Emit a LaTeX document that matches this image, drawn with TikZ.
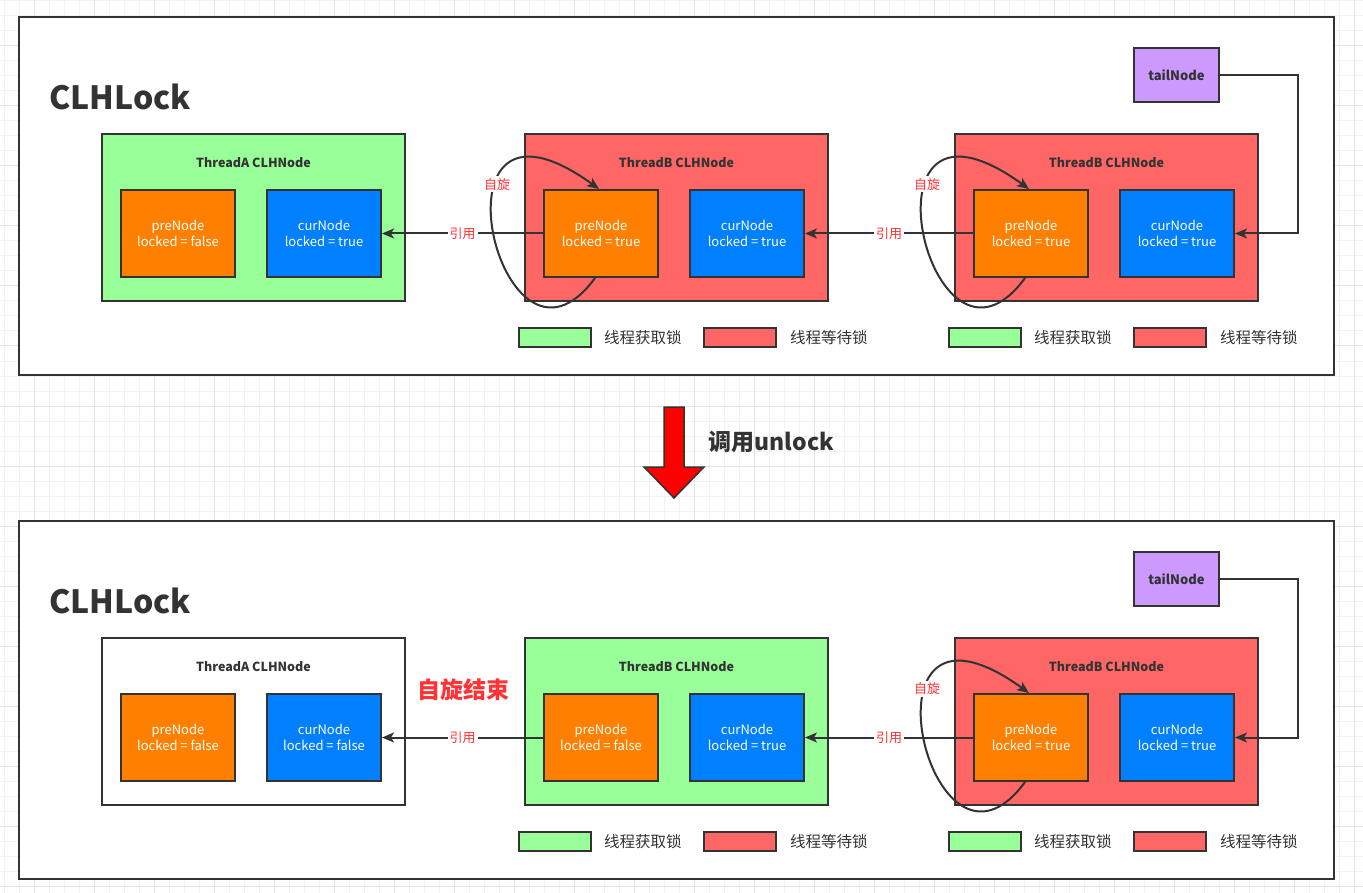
\documentclass[tikz,border=0pt]{standalone}
\usepackage{fontspec}
\setmainfont{Noto Sans CJK SC}
\usetikzlibrary{arrows.meta,positioning}
\definecolor{lineGray}{HTML}{333333}
\definecolor{waitRed}{HTML}{FF6666}
\definecolor{getGreen}{HTML}{99FF99}
\definecolor{preOrange}{HTML}{FF8000}
\definecolor{curBlue}{HTML}{007FFF}
\definecolor{tailPurple}{HTML}{CC99FF}
\definecolor{noteRed}{HTML}{FF3333}
\definecolor{gridMinor}{HTML}{F2F2F2}
\definecolor{gridMajor}{HTML}{E3E3E3}
\tikzset{
    panel/.style={draw=lineGray, line width=2pt, fill=white},
    threadbox/.style={draw=lineGray, line width=2pt, minimum width=303pt, minimum height=167pt, inner sep=0pt},
    fieldbox/.style={draw=lineGray, line width=2pt, minimum width=114pt, minimum height=87pt, inner sep=0pt,
        text=white, align=center, font=\fontsize{13}{16}\selectfont},
    titletext/.style={text=lineGray, inner sep=0pt, font=\bfseries\fontsize{12.5}{15}\selectfont},
    tailbox/.style={draw=lineGray, line width=2pt, fill=tailPurple, minimum width=85pt, minimum height=54pt,
        inner sep=0pt, text=lineGray, font=\bfseries\fontsize{13}{15}\selectfont},
    refline/.style={draw=lineGray, line width=2pt, -{Stealth[length=12pt,width=10pt,inset=3pt]}},
    reflabel/.style={fill=white, text=noteRed, inner sep=2pt, font=\fontsize{13}{15}\selectfont},
    legendbox/.style={draw=lineGray, line width=2pt, minimum width=72pt, minimum height=19pt, inner sep=0pt},
    legendtext/.style={text=lineGray, inner sep=0pt, font=\fontsize{15.5}{18}\selectfont},
    headline/.style={text=lineGray, inner sep=0pt, anchor=west, font=\bfseries\fontsize{32}{38}\selectfont},
}
% one CLHNode: name, x, y, fill, title, pre locked, cur locked
\newcommand\ThreadNode[7]{%
    \node[threadbox, fill=#4] (#1) at (#2,#3) {};
    \node[titletext] (#1title) at ([yshift=-29.5pt]#1.north) {#5};
    \node[fieldbox, fill=preOrange] (#1pre) at ([xshift=-75.5pt,yshift=-16pt]#1.center) {preNode\\locked = #6};
    \node[fieldbox, fill=curBlue] (#1cur) at ([xshift=70.5pt,yshift=-16pt]#1.center) {curNode\\locked = #7};
}
% spinning loop on a preNode
\newcommand\SpinLoop[1]{%
    \draw[refline] ([xshift=-6pt]#1pre.south) .. controls +(-95,130) and +(-180,-130) .. ([xshift=-2pt]#1pre.north);
    \node[reflabel] (#1spin) at ([xshift=-104pt,yshift=49pt]#1pre.center) {自旋};
}
% legend pair: name, x, y
\newcommand\LegendPair[3]{%
    \node[legendbox, fill=getGreen] (#1g) at (#2,#3) {};
    \node[legendtext, right=12pt of #1g] (#1gt) {线程获取锁};
    \node[legendbox, fill=waitRed] (#1r) at ([xshift=185pt]#1g.center) {};
    \node[legendtext, right=13pt of #1r] (#1rt) {线程等待锁};
}

\begin{document}
\begin{tikzpicture}[x=1pt, y=-1pt]
    \useasboundingbox (0,0) rectangle (1363,893);
    \fill[white] (0,0) rectangle (1363,893);
    % background grid
    \foreach \gx in {4,19,...,1363} \draw[gridMinor, line width=1pt] (\gx,0) -- (\gx,893);
    \foreach \gy in {1,16,...,893} \draw[gridMinor, line width=1pt] (0,\gy) -- (1363,\gy);
    \foreach \gx in {34,94,...,1363} \draw[gridMajor, line width=1pt] (\gx,0) -- (\gx,893);
    \foreach \gy in {46,106,...,893} \draw[gridMajor, line width=1pt] (0,\gy) -- (1363,\gy);

    % before unlock
    \draw[panel] (19,17) rectangle (1334,375);
    \node[headline] (head1) at (49,97) {CLHLock};
    \ThreadNode{a1}{253.5}{217.5}{getGreen}{ThreadA CLHNode}{false}{true}
    \ThreadNode{b1}{676.5}{217.5}{waitRed}{ThreadB CLHNode}{true}{true}
    \ThreadNode{c1}{1106.5}{217.5}{waitRed}{ThreadB CLHNode}{true}{true}
    \node[tailbox] (tail1) at (1176.5,75) {tailNode};
    \draw[refline] (tail1.east) -- ++(78,0) |- (c1cur.east);
    \draw[refline] (b1pre.west) -- node[reflabel] (b1ref) {引用} (a1cur.east);
    \draw[refline] (c1pre.west) -- node[reflabel] (c1ref) {引用} (b1cur.east);
    \SpinLoop{b1}
    \SpinLoop{c1}
    \LegendPair{l1}{555}{337.5}
    \LegendPair{m1}{985}{337.5}

    % unlock arrow
    \draw[fill=red, draw=lineGray, line width=1.5pt] (664,407) -- (684,407) -- (684,467) -- (704,467)
        -- (674,498) -- (644,467) -- (664,467) -- cycle;
    \node[text=lineGray, anchor=west, font=\bfseries\fontsize{23}{28}\selectfont] (unlock) at (705,442) {调用unlock};

    % after unlock
    \draw[panel] (19,521) rectangle (1334,879);
    \node[headline] (head2) at (49,601) {CLHLock};
    \ThreadNode{a2}{253.5}{721.5}{white}{ThreadA CLHNode}{false}{false}
    \ThreadNode{b2}{676.5}{721.5}{getGreen}{ThreadB CLHNode}{false}{true}
    \ThreadNode{c2}{1106.5}{721.5}{waitRed}{ThreadB CLHNode}{true}{true}
    \node[tailbox] (tail2) at (1176.5,579) {tailNode};
    \draw[refline] (tail2.east) -- ++(78,0) |- (c2cur.east);
    \draw[refline] (b2pre.west) -- node[reflabel] (b2ref) {引用} (a2cur.east);
    \draw[refline] (c2pre.west) -- node[reflabel] (c2ref) {引用} (b2cur.east);
    \SpinLoop{c2}
    \node[text=noteRed, font=\bfseries\fontsize{23}{28}\selectfont] (spinend) at (463,690) {自旋结束};
    \LegendPair{l2}{555}{841.5}
    \LegendPair{m2}{985}{841.5}
\end{tikzpicture}
\end{document}
